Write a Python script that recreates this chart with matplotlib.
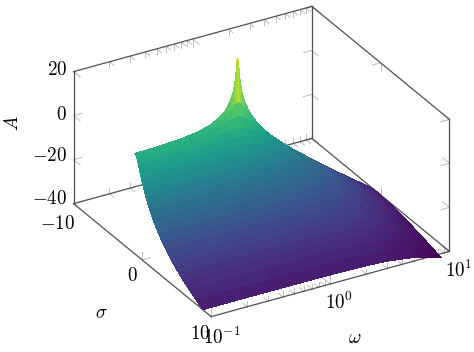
import numpy as np
import matplotlib
matplotlib.use('Agg')
import matplotlib.pyplot as plt

# malla
omega = [.1,.16,.24,.33,.42,.5,.57,.63,.67,.7,.72,.73,.74,.76,.79,.83,.89,.97,1.07,1.2,1.36,1.55,1.8,2.1,2.5,3,3.6,4.3,5.2,6.2,7.4,8.6,10]
sigma = [-1.1,-1.0,-.9,-.75,-.6,-.4,-.2,0,.25,.5,.8,1.1,1.5,1.9,2.4,2.9,3.4,4,4.6,5.3,6,6.8,7.8,8.8]

# A por fila de sigma
A = [
    [5.6,5.9,6.5,7.5,9.0,11.0,13.6,17.3,21.5,27.1,35.1,36.0,35.0,26.8,20.7,16.1,11.7,7.8,4.3,0.8,-2.4,-5.4,-8.7,-11.8,-15.1,-18.6,-21.9,-25.1,-28.5,-31.6,-34.7,-37.3,-40.0],
    [5.5,5.7,6.2,7.1,8.5,10.2,12.2,14.3,15.7,16.5,16.7,16.7,16.6,16.1,15.0,13.1,10.3,7.1,3.9,0.6,-2.5,-5.5,-8.7,-11.8,-15.2,-18.6,-21.9,-25.1,-28.5,-31.6,-34.7,-37.3,-40.0],
    [5.0,5.2,5.6,6.3,7.3,8.4,9.4,10.2,10.6,10.7,10.7,10.6,10.5,10.3,9.9,9.1,7.6,5.4,2.9,0.1,-2.8,-5.7,-8.8,-11.9,-15.2,-18.6,-21.9,-25.1,-28.5,-31.6,-34.7,-37.3,-40.0],
    [3.8,3.9,4.1,4.5,5.0,5.4,5.7,5.8,5.8,5.7,5.6,5.6,5.5,5.4,5.1,4.7,3.9,2.7,1.0,-1.2,-3.7,-6.3,-9.2,-12.1,-15.4,-18.7,-22.0,-25.1,-28.5,-31.6,-34.7,-37.3,-40.0],
    [2.2,2.2,2.3,2.5,2.6,2.7,2.7,2.6,2.5,2.4,2.3,2.3,2.2,2.1,1.9,1.6,1.0,0.2,-1.1,-2.7,-4.8,-7.0,-9.7,-12.4,-15.6,-18.8,-22.1,-25.2,-28.6,-31.6,-34.7,-37.3,-40.0],
    [-0.2,-0.2,-0.2,-0.2,-0.3,-0.4,-0.5,-0.7,-0.8,-0.9,-1.0,-1.1,-1.1,-1.2,-1.4,-1.6,-2.1,-2.7,-3.5,-4.8,-6.3,-8.2,-10.5,-13.0,-16.0,-19.1,-22.3,-25.3,-28.6,-31.7,-34.8,-37.4,-40.0],
    [-2.6,-2.6,-2.6,-2.7,-2.9,-3.0,-3.2,-3.4,-3.5,-3.6,-3.7,-3.8,-3.8,-3.9,-4.0,-4.2,-4.6,-5.1,-5.7,-6.7,-8.0,-9.5,-11.5,-13.7,-16.5,-19.4,-22.5,-25.5,-28.7,-31.8,-34.8,-37.4,-40.0],
    [-4.8,-4.9,-4.9,-5.0,-5.2,-5.4,-5.5,-5.7,-5.9,-6.0,-6.0,-6.1,-6.1,-6.2,-6.3,-6.5,-6.8,-7.2,-7.7,-8.5,-9.5,-10.8,-12.5,-14.5,-17.0,-19.8,-22.8,-25.7,-28.9,-31.9,-34.9,-37.5,-40.1],
    [-7.5,-7.5,-7.6,-7.7,-7.8,-8.0,-8.1,-8.3,-8.4,-8.5,-8.5,-8.6,-8.6,-8.7,-8.8,-8.9,-9.1,-9.5,-9.9,-10.5,-11.4,-12.4,-13.9,-15.6,-17.8,-20.4,-23.2,-26.0,-29.1,-32.0,-35.0,-37.5,-40.1],
    [-9.8,-9.9,-9.9,-10.0,-10.1,-10.3,-10.4,-10.5,-10.6,-10.7,-10.8,-10.8,-10.8,-10.9,-11.0,-11.1,-11.3,-11.5,-11.9,-12.4,-13.1,-14.0,-15.2,-16.7,-18.7,-21.0,-23.6,-26.3,-29.3,-32.2,-35.1,-37.6,-40.2],
    [-12.4,-12.4,-12.4,-12.5,-12.6,-12.7,-12.8,-13.0,-13.0,-13.1,-13.1,-13.2,-13.2,-13.2,-13.3,-13.4,-13.6,-13.8,-14.1,-14.5,-15.0,-15.8,-16.8,-18.0,-19.8,-21.9,-24.2,-26.7,-29.6,-32.4,-35.3,-37.7,-40.3],
    [-14.6,-14.6,-14.7,-14.7,-14.8,-14.9,-15.0,-15.1,-15.2,-15.2,-15.3,-15.3,-15.3,-15.3,-15.4,-15.5,-15.6,-15.8,-16.0,-16.4,-16.8,-17.4,-18.3,-19.4,-20.9,-22.7,-24.9,-27.2,-30.0,-32.6,-35.4,-37.9,-40.4],
    [-17.3,-17.3,-17.3,-17.4,-17.4,-17.5,-17.6,-17.7,-17.7,-17.7,-17.8,-17.8,-17.8,-17.8,-17.9,-17.9,-18.0,-18.2,-18.4,-18.6,-19.0,-19.5,-20.2,-21.1,-22.3,-23.9,-25.8,-28.0,-30.5,-33.0,-35.7,-38.1,-40.5],
    [-19.6,-19.6,-19.6,-19.7,-19.7,-19.8,-19.8,-19.9,-19.9,-20.0,-20.0,-20.0,-20.0,-20.0,-20.1,-20.1,-20.2,-20.3,-20.5,-20.7,-21.0,-21.4,-21.9,-22.7,-23.7,-25.1,-26.8,-28.7,-31.1,-33.5,-36.0,-38.3,-40.7],
    [-22.1,-22.1,-22.2,-22.2,-22.2,-22.3,-22.3,-22.4,-22.4,-22.4,-22.5,-22.5,-22.5,-22.5,-22.5,-22.6,-22.6,-22.7,-22.8,-23.0,-23.2,-23.5,-24.0,-24.6,-25.4,-26.6,-28.0,-29.7,-31.8,-34.1,-36.5,-38.7,-41.0],
    [-24.4,-24.4,-24.4,-24.4,-24.5,-24.5,-24.5,-24.6,-24.6,-24.6,-24.6,-24.6,-24.6,-24.6,-24.7,-24.7,-24.7,-24.8,-24.9,-25.1,-25.2,-25.5,-25.8,-26.3,-27.0,-28.0,-29.3,-30.7,-32.7,-34.7,-37.0,-39.0,-41.3],
    [-26.4,-26.4,-26.4,-26.4,-26.4,-26.5,-26.5,-26.5,-26.5,-26.5,-26.6,-26.6,-26.6,-26.6,-26.6,-26.6,-26.7,-26.7,-26.8,-26.9,-27.1,-27.3,-27.6,-28.0,-28.6,-29.4,-30.5,-31.8,-33.5,-35.3,-37.5,-39.5,-41.6],
    [-28.5,-28.5,-28.5,-28.5,-28.5,-28.6,-28.6,-28.6,-28.6,-28.6,-28.6,-28.6,-28.6,-28.7,-28.7,-28.7,-28.7,-28.8,-28.8,-28.9,-29.0,-29.2,-29.4,-29.8,-30.3,-30.9,-31.9,-33.0,-34.5,-36.2,-38.1,-40.0,-42.0],
    [-30.4,-30.4,-30.4,-30.4,-30.4,-30.4,-30.5,-30.5,-30.5,-30.5,-30.5,-30.5,-30.5,-30.5,-30.5,-30.6,-30.6,-30.6,-30.7,-30.7,-30.8,-31.0,-31.2,-31.4,-31.8,-32.4,-33.2,-34.2,-35.5,-37.0,-38.8,-40.5,-42.4],
    [-32.4,-32.4,-32.4,-32.4,-32.4,-32.4,-32.4,-32.4,-32.5,-32.5,-32.5,-32.5,-32.5,-32.5,-32.5,-32.5,-32.5,-32.5,-32.6,-32.6,-32.7,-32.8,-33.0,-33.2,-33.6,-34.0,-34.7,-35.5,-36.7,-38.0,-39.6,-41.2,-43.0],
    [-34.1,-34.1,-34.2,-34.2,-34.2,-34.2,-34.2,-34.2,-34.2,-34.2,-34.2,-34.2,-34.2,-34.2,-34.2,-34.3,-34.3,-34.3,-34.3,-34.4,-34.4,-34.5,-34.7,-34.8,-35.1,-35.5,-36.1,-36.8,-37.8,-39.0,-40.4,-41.9,-43.5],
    [-36.0,-36.0,-36.0,-36.0,-36.0,-36.0,-36.0,-36.0,-36.0,-36.0,-36.0,-36.1,-36.1,-36.1,-36.1,-36.1,-36.1,-36.1,-36.1,-36.2,-36.2,-36.3,-36.4,-36.6,-36.8,-37.1,-37.6,-38.2,-39.1,-40.1,-41.4,-42.7,-44.2],
    [-38.0,-38.0,-38.0,-38.0,-38.1,-38.1,-38.1,-38.1,-38.1,-38.1,-38.1,-38.1,-38.1,-38.1,-38.1,-38.1,-38.1,-38.1,-38.2,-38.2,-38.2,-38.3,-38.4,-38.5,-38.7,-39.0,-39.3,-39.8,-40.5,-41.4,-42.5,-43.7,-45.1],
    [-39.9,-39.9,-39.9,-39.9,-39.9,-39.9,-39.9,-39.9,-39.9,-39.9,-39.9,-39.9,-39.9,-39.9,-39.9,-39.9,-39.9,-40.0,-40.0,-40.0,-40.0,-40.1,-40.2,-40.2,-40.4,-40.6,-40.9,-41.4,-42.0,-42.7,-43.7,-44.7,-45.9],
]

omega_major = [.1, 1, 10]
omega_minor = [.2,.3,.4,.5,.6,.7,.8,.9,2,3,4,5,6,7,8,9]
sigma_ticks = [-10, 0, 10]
A_ticks = [-40, -20, 0, 20]

plt.rcParams['mathtext.fontset'] = 'cm'
fig = plt.figure(figsize=(4.74, 3.52), dpi=100)

# eje 3D mas grande que la figura para que nada se recorte
P = 600
ax = fig.add_axes([-46.6/474, -117.6/352, P/474, P/352], projection='3d',
                  proj_type='ortho', computed_zorder=False)
ax.set_axis_off()
ax.set_xlim(-1, 1, view_margin=0)
ax.set_ylim(10, -10, view_margin=0)
ax.set_zlim(-40, 20, view_margin=0)
ax.view_init(elev=28.3, azim=-120)
ax.set_box_aspect((1, 1, .545), zoom=.6747)

# aristas de la caja
edges = [((-1,-10,-40),(-1,10,-40)), ((-1,10,-40),(1,10,-40)), ((1,10,-40),(1,-10,-40)),
         ((1,-10,-40),(-1,-10,-40)), ((-1,-10,20),(1,-10,20)), ((1,-10,20),(1,10,20)),
         ((-1,-10,-40),(-1,-10,20)), ((1,-10,-40),(1,-10,20)), ((1,10,-40),(1,10,20))]
for p, q in edges:
    ax.plot(*zip(p, q), color='#505050', lw=.9, zorder=1)

# marcas: cada una tiene dos brazos hacia adentro de la caja
def tick(p, d1, d2, k=1.0):
    for d in (d1, d2):
        ax.plot([p[0], p[0]+k*d[0]], [p[1], p[1]+k*d[1]], [p[2], p[2]+k*d[2]],
                color='#bdbdbd', lw=.7, zorder=0)

dw, ds, dz = .07, .95, 3.8
for om, k in [(v, 1.0) for v in omega_major] + [(v, .66) for v in omega_minor]:
    x = np.log10(om)
    tick((x,-10,20), (0,ds,0), (0,0,-dz), k)
    tick((x,-10,-40), (0,ds,0), (0,0,dz), k)
    tick((x,10,-40), (0,-ds,0), (0,0,dz), k)
for s in sigma_ticks:
    if s == 0:
        tick((-1,s,-40), (dw,0,0), (0,0,dz))
    tick((1,s,-40), (-dw,0,0), (0,0,dz))
    tick((1,s,20), (-dw,0,0), (0,0,-dz))
for z in A_ticks:
    tick((-1,-10,z), (dw,0,0), (0,ds,0))
    tick((1,-10,z), (-dw,0,0), (0,ds,0))
    tick((1,10,z), (-dw,0,0), (0,-ds,0))

W, S = np.meshgrid(np.log10(omega), sigma)
ax.plot_surface(W, S, np.array(A), cmap='viridis', vmin=-46, vmax=36, rstride=1, cstride=1,
                linewidth=0, antialiased=False, shade=False, zorder=2)

# textos en pixeles de la figura
def label(x, y, s, ha='center', **kw):
    fig.text(x/474, 1-y/352, s, ha=ha, va='baseline', fontsize=13.7, **kw)

label(67, 75, r'$20$', 'right')
label(67, 120, r'$0$', 'right')
label(67, 161, r'$-20$', 'right')
label(67, 204, r'$-40$', 'right')
label(75, 229, r'$-10$', 'right')
label(132, 281, r'$0$')
label(190, 339, r'$10$', 'left')
label(203, 344, r'$10^{-1}$', 'left')
label(325, 309, r'$10^{0}$', 'left')
label(445, 277, r'$10^{1}$', 'left')
label(101, 318, r'$\sigma$')
label(355, 343, r'$\omega$')
fig.text(12/474, 1-123/352, r'$A$', rotation=90, ha='center', va='center', fontsize=13.7)

fig.savefig('out.png', dpi=100)
